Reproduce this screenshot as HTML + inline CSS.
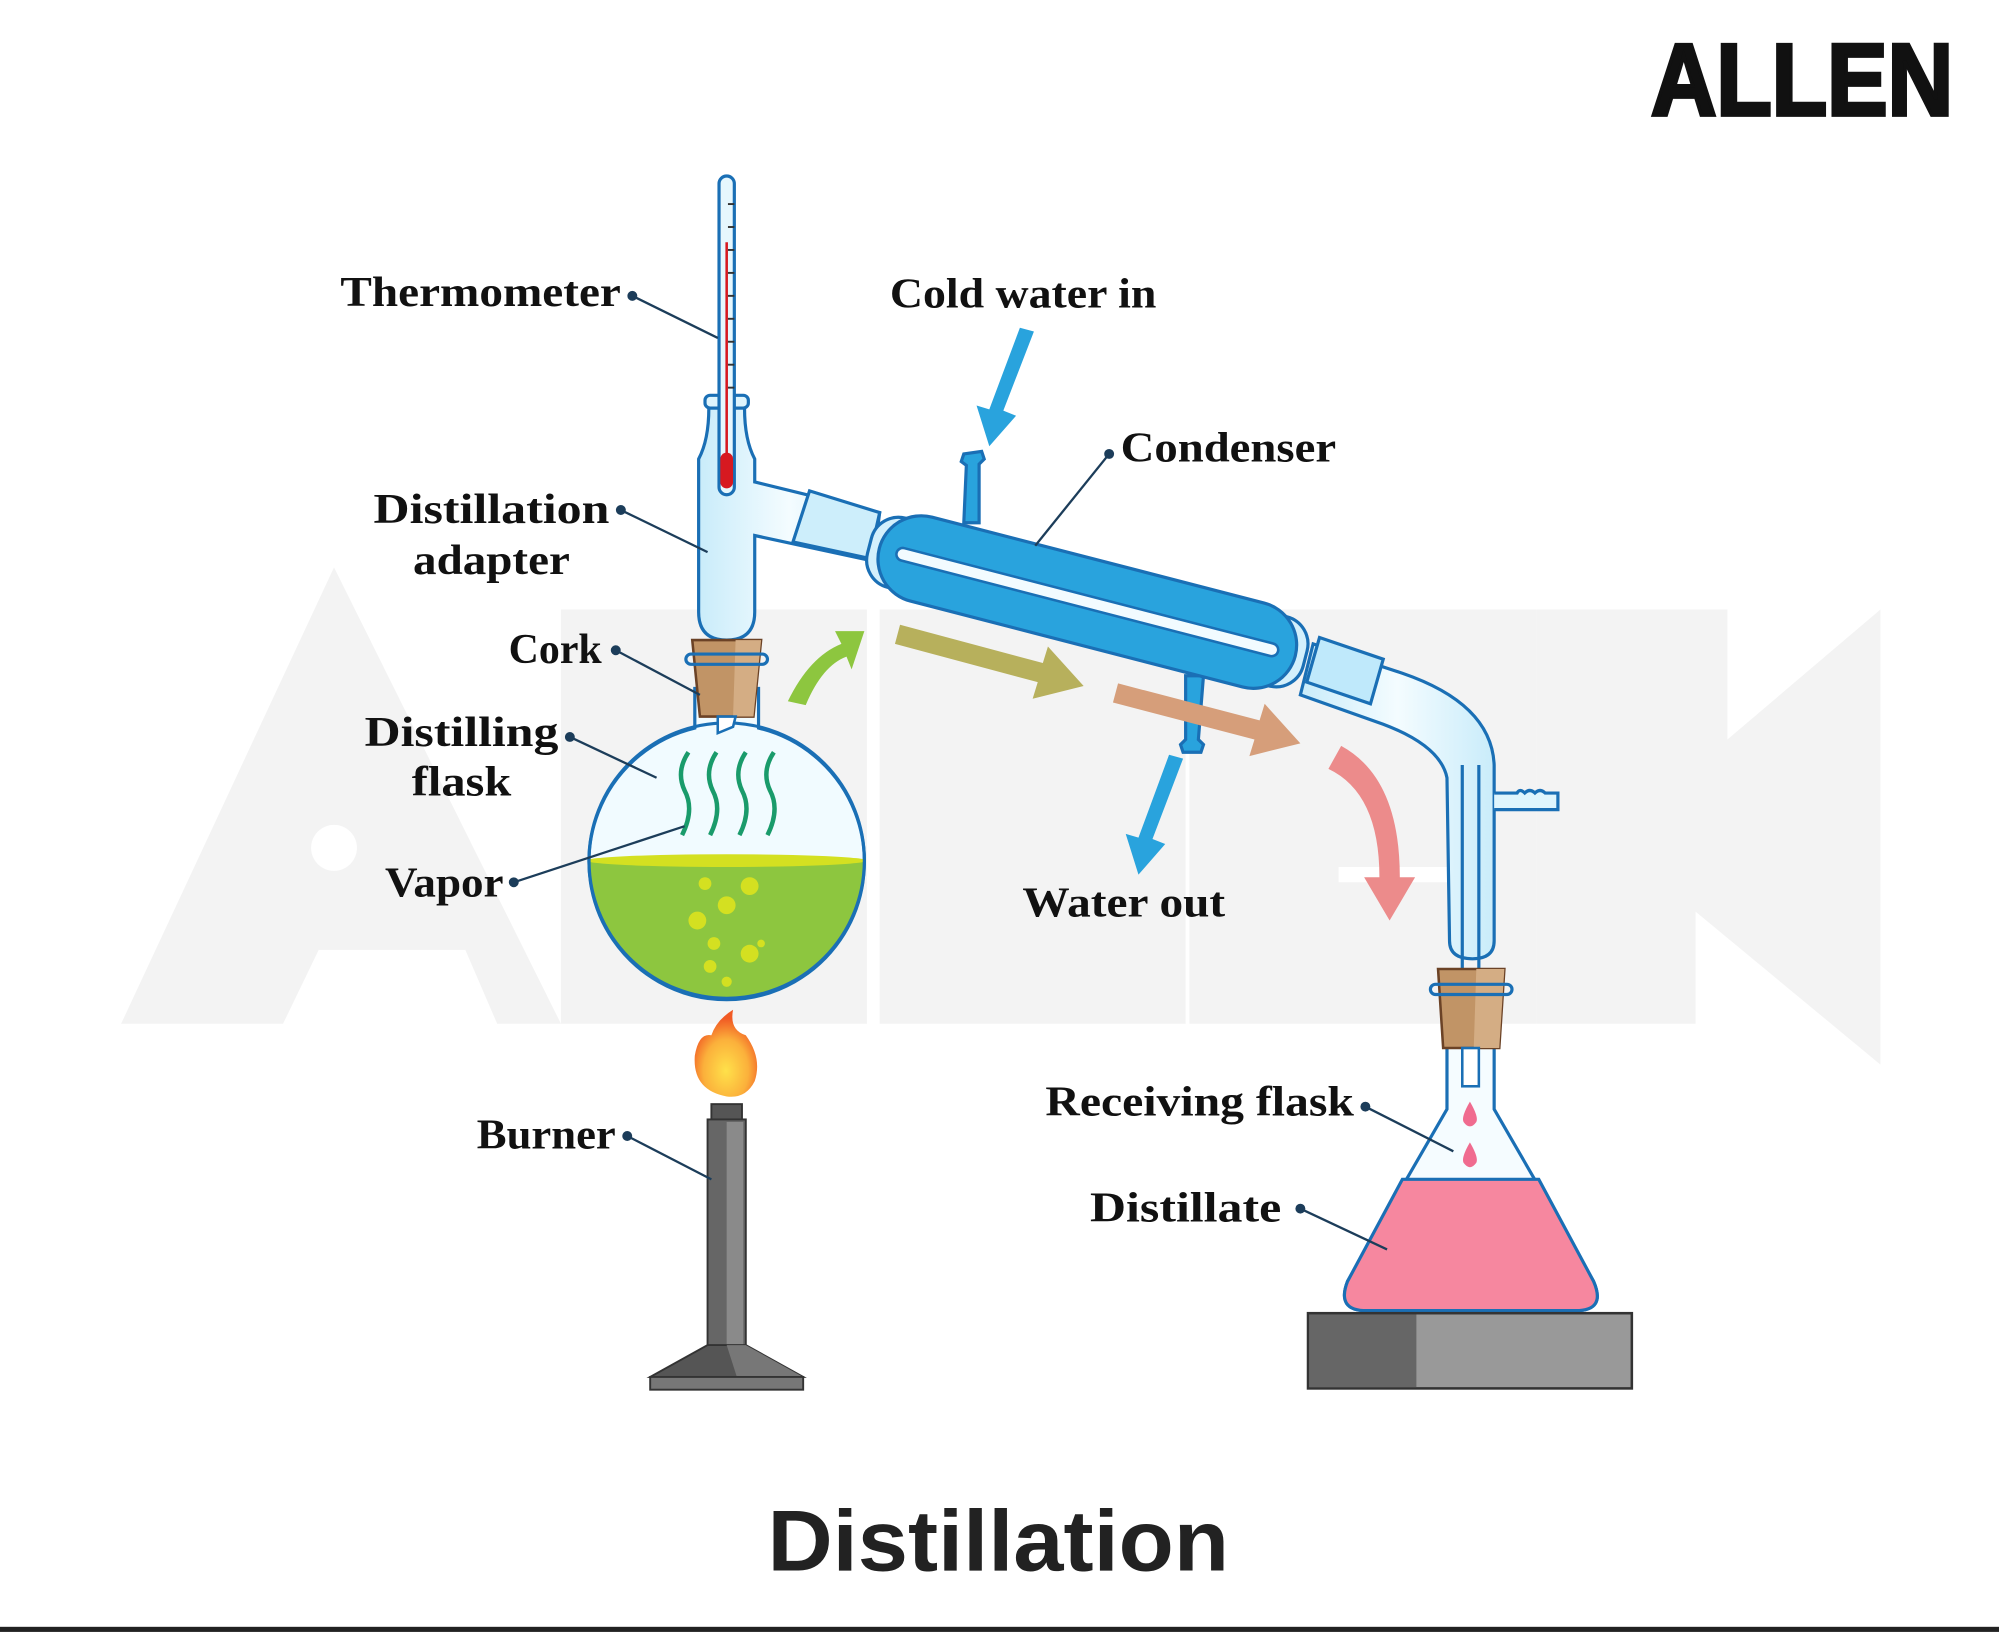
<!DOCTYPE html>
<html><head><meta charset="utf-8"><style>
html,body{margin:0;padding:0;background:#fff;}
svg{display:block;}
.lb{font-family:"Liberation Serif",serif;font-weight:bold;font-size:33px;fill:#111;}
</style></head><body>
<svg width="1999" height="1632" viewBox="0 0 1568 1280" xmlns="http://www.w3.org/2000/svg">
<defs>
<linearGradient id="gl" x1="0" y1="0" x2="1" y2="0"><stop offset="0" stop-color="#c9ecfa"/><stop offset="0.5" stop-color="#f4fcff"/><stop offset="1" stop-color="#c9ecfa"/></linearGradient>
<radialGradient id="fl" cx="0.5" cy="0.7" r="0.6"><stop offset="0" stop-color="#ffe14a"/><stop offset="0.6" stop-color="#fbb03b"/><stop offset="1" stop-color="#f15a24"/></radialGradient>
<clipPath id="fc"><circle cx="570" cy="675" r="108"/></clipPath>
</defs>
<rect width="1568" height="1280" fill="#fff"/>
<!-- watermark -->
<g fill="#f3f3f3">
<path d="M95 803 L262 445 L440 803 L390 803 L365 745 L250 745 L222 803 Z"/>
<rect x="440" y="478" width="240" height="325"/>
<rect x="690" y="478" width="240" height="325"/>
<rect x="933" y="478" width="272" height="325"/>
<path d="M1205 478 L1355 478 L1355 580 L1475 478 L1475 835 L1330 715 L1330 803 L1205 803 Z"/>
</g>
<circle cx="262" cy="665" r="18" fill="#fff"/>
<rect x="1050" y="680" width="90" height="12" fill="#fff"/>
<!-- ALLEN logo -->
<text x="1295" y="90" font-family="Liberation Sans,sans-serif" font-weight="900" font-size="80" textLength="237" lengthAdjust="spacingAndGlyphs" fill="#111" stroke="#111" stroke-width="3">ALLEN</text>

<!-- condenser-to-receiver adapter -->
<path d="M1030 505 L1100 528 Q1170 552 1172 600 L1172 738 Q1172 752 1155 752 Q1137 752 1137 738 L1135 610 Q1130 585 1085 568 L1020 545 Z" fill="url(#gl)" stroke="#1a6fb5" stroke-width="2.5"/>
<line x1="1147" y1="600" x2="1147" y2="825" stroke="#1a6fb5" stroke-width="2.5"/>
<line x1="1160" y1="600" x2="1160" y2="825" stroke="#1a6fb5" stroke-width="2.5"/>
<path d="M1172 622 L1190 622 Q1192 618 1196 622 Q1200 618 1204 622 Q1208 618 1212 622 L1222 622 L1222 635 L1190 635 L1172 635" fill="#dff5fd" stroke="#1a6fb5" stroke-width="2.5"/>
<path d="M1035 500 L1085 517 L1075 552 L1025 535 Z" fill="#bfe9fb" stroke="#1a6fb5" stroke-width="2.5"/>

<!-- distillation adapter -->
<path d="M592 378 L690 402 L685 440 L592 420 L592 480 Q592 502 570 502 Q548 502 548 480 L548 360 Q556 345 556 320 L584 320 Q584 345 592 360 Z" fill="url(#gl)" stroke="#1a6fb5" stroke-width="2.5"/>
<rect x="553" y="310" width="34" height="10" rx="4" fill="#dff5fd" stroke="#1a6fb5" stroke-width="2.5"/>
<path d="M635 385 L690 402 L682 438 L622 425 Z" fill="#cdeefb" stroke="#1a6fb5" stroke-width="2.5"/>
<!-- thermometer -->
<rect x="564" y="138" width="12" height="250" rx="6" fill="#e6f7fd" stroke="#1a6fb5" stroke-width="2.5"/>
<line x1="570" y1="190" x2="570" y2="365" stroke="#d71920" stroke-width="2"/>
<rect x="565" y="355" width="10" height="28" rx="5" fill="#d71920"/>
<g stroke="#333" stroke-width="1.5">
<line x1="571" y1="160" x2="576" y2="160"/><line x1="571" y1="178" x2="576" y2="178"/><line x1="571" y1="196" x2="576" y2="196"/><line x1="571" y1="214" x2="576" y2="214"/><line x1="571" y1="232" x2="576" y2="232"/><line x1="571" y1="250" x2="576" y2="250"/><line x1="571" y1="268" x2="576" y2="268"/><line x1="571" y1="286" x2="576" y2="286"/><line x1="571" y1="304" x2="576" y2="304"/>
</g>

<!-- condenser ports -->
<path d="M756 410 L758 365 L754 362 L756 356 L770 354 L772 360 L768 364 L768 410 Z" fill="#29a3dd" stroke="#1a6fb5" stroke-width="2.5"/>
<path d="M930 530 L930 580 L926 584 L928 590 L942 590 L944 584 L940 580 L944 530 Z" fill="#29a3dd" stroke="#1a6fb5" stroke-width="2.5"/>
<!-- condenser -->
<g transform="translate(682 428) rotate(14.5)">
<rect x="0" y="-28" width="353" height="56" rx="22" fill="#d3f0fc" stroke="#1a6fb5" stroke-width="2.5"/>
<rect x="8" y="-34" width="337" height="68" rx="34" fill="#29a3dd" stroke="#1a6fb5" stroke-width="2.5"/>
<rect x="22" y="-5" width="309" height="10" rx="5" fill="#f2fbff" stroke="#1a6fb5" stroke-width="2"/>
</g>

<!-- flow arrows -->
<path d="M811 260 L787 322 L797 326 L776 350 L766 318 L776 321 L800 257 Z" fill="#29a3dd"/>
<path d="M928 595 L904 658 L914 662 L893 686 L883 654 L893 657 L917 592 Z" fill="#29a3dd"/>
<path d="M618 550 Q635 515 660 505 L655 495 L678 495 L668 525 L664 515 Q645 522 632 553 Z" fill="#8dc63f"/>
<path d="M706 490 L818 520 L822 507 L850 538 L810 548 L814 535 L702 505 Z" fill="#b7b05c"/>
<path d="M877 536 L988 565 L992 552 L1020 583 L980 593 L984 580 L873 551 Z" fill="#d69e7a"/>
<path d="M1052 585 Q1098 610 1098 688 L1110 688 L1090 722 L1070 688 L1082 688 Q1082 622 1042 603 Z" fill="#ec8b8b"/>

<!-- distilling flask -->
<path d="M545 540 L545 571 A108 108 0 1 0 595 571 L595 540 Z" fill="#f1fbff" stroke="#1a6fb5" stroke-width="2.5"/>
<g clip-path="url(#fc)">
<rect x="450" y="675" width="240" height="120" fill="#8dc63f"/>
<ellipse cx="570" cy="675" rx="110" ry="5" fill="#d4e021"/>
</g>
<circle cx="570" cy="675" r="108" fill="none" stroke="#1a6fb5" stroke-width="2.5"/>
<g fill="#d4e021"><circle cx="553" cy="693" r="5"/><circle cx="588" cy="695" r="7"/><circle cx="570" cy="710" r="7"/><circle cx="547" cy="722" r="7"/><circle cx="560" cy="740" r="5"/><circle cx="588" cy="748" r="7"/><circle cx="557" cy="758" r="5"/><circle cx="570" cy="770" r="4"/><circle cx="597" cy="740" r="3"/></g>
<g fill="none" stroke="#1a9b6b" stroke-width="3.5">
<path d="M540 590 Q530 605 537 620 Q545 635 535 655"/>
<path d="M562 590 Q552 605 559 620 Q567 635 557 655"/>
<path d="M585 590 Q575 605 582 620 Q590 635 580 655"/>
<path d="M607 590 Q597 605 604 620 Q612 635 602 655"/>
</g>
<!-- cork -->
<path d="M543 502 L597 502 L591 562 L549 562 Z" fill="#c19466" stroke="#6b4226" stroke-width="2"/>
<path d="M577 502 L597 502 L591 562 L575 562 Z" fill="#d4ad84"/>
<rect x="538" y="513" width="64" height="8" rx="4" fill="none" stroke="#1a6fb5" stroke-width="2.5"/>
<path d="M563 562 L577 562 L575 570 L563 575 Z" fill="#fff" stroke="#1a6fb5" stroke-width="2"/>

<!-- flame -->
<path d="M570 860 Q543 855 545 828 Q548 810 558 812 Q562 800 575 792 Q572 808 585 812 Q598 830 592 848 Q585 862 570 860 Z" fill="url(#fl)"/>
<!-- burner -->
<rect x="558" y="866" width="24" height="14" fill="#555" stroke="#333" stroke-width="1.5"/>
<rect x="555" y="878" width="30" height="178" fill="#666" stroke="#333" stroke-width="1.5"/>
<rect x="570" y="880" width="13" height="175" fill="#8a8a8a"/>
<path d="M555 1055 L585 1055 L630 1080 L510 1080 Z" fill="#555" stroke="#333" stroke-width="1.5"/>
<path d="M570 1055 L585 1055 L630 1080 L578 1080 Z" fill="#777"/>
<rect x="510" y="1080" width="120" height="10" fill="#777" stroke="#333" stroke-width="1.5"/>

<!-- receiving flask -->
<path d="M1135 780 L1135 870 L1057 1005 Q1048 1028 1072 1028 L1236 1028 Q1260 1028 1250 1005 L1172 870 L1172 780 Z" fill="#f5fcff" stroke="#1a6fb5" stroke-width="2.5"/>
<path d="M1100 925 L1207 925 L1250 1005 Q1260 1028 1236 1028 L1072 1028 Q1048 1028 1057 1005 Z" fill="#f6879f" stroke="#1a6fb5" stroke-width="2.5"/>
<path d="M1128 760 L1180 760 L1176 822 L1132 822 Z" fill="#c19466" stroke="#6b4226" stroke-width="2"/>
<path d="M1158 760 L1180 760 L1176 822 L1156 822 Z" fill="#d4ad84"/>
<rect x="1122" y="772" width="64" height="8" rx="4" fill="none" stroke="#1a6fb5" stroke-width="2.5"/>
<rect x="1147" y="822" width="13" height="30" fill="#fff" stroke="#1a6fb5" stroke-width="2"/>
<path d="M1153 864 Q1146 876 1148 880 Q1153 887 1158 880 Q1160 876 1153 864 Z" fill="#f06b8f"/>
<path d="M1153 896 Q1146 908 1148 912 Q1153 919 1158 912 Q1160 908 1153 896 Z" fill="#f06b8f"/>
<!-- hotplate -->
<rect x="1026" y="1030" width="254" height="59" fill="#999" stroke="#333" stroke-width="2"/>
<rect x="1027" y="1031" width="84" height="57" fill="#666"/>

<!-- leader lines -->
<g stroke="#1c3d5a" stroke-width="1.8" fill="#1c3d5a">
<line x1="496" y1="232" x2="563" y2="265"/><circle cx="496" cy="232" r="3"/>
<line x1="870" y1="356" x2="812" y2="428"/><circle cx="870" cy="356" r="3"/>
<line x1="487" y1="400" x2="555" y2="433"/><circle cx="487" cy="400" r="3"/>
<line x1="483" y1="510" x2="549" y2="545"/><circle cx="483" cy="510" r="3"/>
<line x1="447" y1="578" x2="515" y2="610"/><circle cx="447" cy="578" r="3"/>
<line x1="403" y1="692" x2="537" y2="648"/><circle cx="403" cy="692" r="3"/>
<line x1="492" y1="891" x2="558" y2="925"/><circle cx="492" cy="891" r="3"/>
<line x1="1071" y1="868" x2="1140" y2="903"/><circle cx="1071" cy="868" r="3"/>
<line x1="1020" y1="948" x2="1088" y2="980"/><circle cx="1020" cy="948" r="3"/>
</g>

<!-- labels -->
<text class="lb" x="267" y="240" textLength="220" lengthAdjust="spacingAndGlyphs">Thermometer</text>
<text class="lb" x="698" y="241" textLength="209" lengthAdjust="spacingAndGlyphs">Cold water in</text>
<text class="lb" x="879" y="362" textLength="169" lengthAdjust="spacingAndGlyphs">Condenser</text>
<text class="lb" x="293" y="410" textLength="185" lengthAdjust="spacingAndGlyphs">Distillation</text>
<text class="lb" x="324" y="450" textLength="123" lengthAdjust="spacingAndGlyphs">adapter</text>
<text class="lb" x="399" y="520" textLength="73" lengthAdjust="spacingAndGlyphs">Cork</text>
<text class="lb" x="286" y="585" textLength="152" lengthAdjust="spacingAndGlyphs">Distilling</text>
<text class="lb" x="323" y="624" textLength="78" lengthAdjust="spacingAndGlyphs">flask</text>
<text class="lb" x="302" y="703" textLength="93" lengthAdjust="spacingAndGlyphs">Vapor</text>
<text class="lb" x="802" y="719" textLength="159" lengthAdjust="spacingAndGlyphs">Water out</text>
<text class="lb" x="374" y="901" textLength="109" lengthAdjust="spacingAndGlyphs">Burner</text>
<text class="lb" x="820" y="875" textLength="242" lengthAdjust="spacingAndGlyphs">Receiving flask</text>
<text class="lb" x="855" y="958" textLength="150" lengthAdjust="spacingAndGlyphs">Distillate</text>

<text x="602" y="1232" font-family="Liberation Sans,sans-serif" font-weight="bold" font-size="68" textLength="362" lengthAdjust="spacingAndGlyphs" fill="#222">Distillation</text>
<rect x="0" y="1276" width="1568" height="4" fill="#222"/>
</svg>
</body></html>
